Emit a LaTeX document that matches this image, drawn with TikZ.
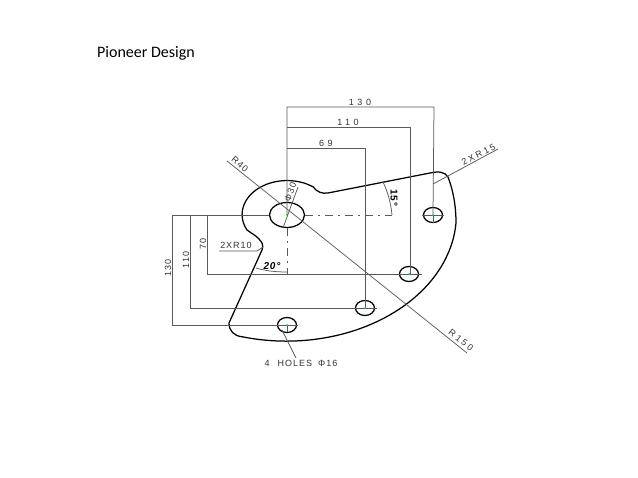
\documentclass[tikz,border=0pt]{standalone}
\usepackage{fontspec}
\setmainfont{Carlito}
\newfontfamily\dimwide[LetterSpace=39]{Liberation Sans}
\newfontfamily\dimmid[LetterSpace=25]{Liberation Sans}
\newfontfamily\dimtight[LetterSpace=11]{Liberation Sans}
\newfontfamily\dimbold[LetterSpace=8]{Liberation Sans}
\usetikzlibrary{shapes.geometric}
\definecolor{dimgray}{gray}{0.35}
\definecolor{dotgreen}{rgb}{0.1,0.85,0.2}
\begin{document}
\begin{tikzpicture}[x=1pt,y=-1pt,
outline/.style={line width=1.25pt,black},
dimline/.style={line width=0.75pt,dimgray},
axisline/.style={line width=0.75pt,dimgray,dash pattern=on 8pt off 5pt on 2pt off 5pt},
hole/.style={ellipse,draw=black,line width=1.25pt,inner sep=0pt,minimum width=19pt,minimum height=15pt},
widelabel/.style={font=\dimwide\fontsize{9}{10}\selectfont,text=black!80,inner sep=0pt},
midlabel/.style={font=\dimmid\fontsize{9}{10}\selectfont,text=black!80,inner sep=0pt},
tightlabel/.style={font=\dimtight\fontsize{9}{10}\selectfont,text=black!80,inner sep=0pt},
anglelabel/.style={font=\dimbold\bfseries\fontsize{10}{11}\selectfont,inner sep=0pt}]
\useasboundingbox (0,0) rectangle (638,478);

\node[anchor=west,inner sep=0pt,font=\fontsize{16}{18}\selectfont] (title) at (97,53) {Pioneer Design};

\node[hole,minimum width=35pt,minimum height=25pt] (bore) at (287,215) {};
\node[hole] (holea) at (433,215) {};
\node[hole] (holeb) at (409,274) {};
\node[hole] (holec) at (365,308) {};
\node[hole] (holed) at (287,325) {};

% outline
\draw[outline] (247,230) arc[start angle=153,end angle=305,x radius=45,y radius=34]
  .. controls (317,192) and (322,194) .. (328,193) -- (430,173)
  .. controls (439,171) and (445,172) .. (448,177)
  .. controls (453,190) and (456,205) .. (456,223)
  arc[start angle=4,end angle=105,x radius=170,y radius=127]
  .. controls (234,336) and (229,331) .. (229,323) -- (262,250)
  .. controls (264,245) and (262,242) .. (258,238)
  .. controls (255,235) and (251,233) .. (247,230) -- cycle;

% top dimensions
\coordinate (top130) at (434,107);
\coordinate (top110) at (410,127);
\coordinate (top69) at (365,148);
\draw[dimline] (bore.center) -- (bore.center |- top130) -- (top130) -- (holea.center);
\draw[dimline] (bore.center |- top110) -- (top110) -- (top110 |- holeb.center);
\draw[dimline] (bore.center |- top69) -- (top69) -- (holec.center);
\node[widelabel] (lab130) at (360,102) {130};
\node[widelabel] (lab110) at (348,122.5) {110};
\node[widelabel] (lab69) at (326,143) {69};

% left dimensions
\coordinate (left130) at (172,215);
\coordinate (left110) at (190,215);
\coordinate (left70) at (207,215);
\draw[dimline] (bore.west) -- (left130) -- (left130 |- holed.center) -- (holed.center);
\draw[dimline] (left110) -- (left110 |- holec.center) -- (holec.center);
\draw[dimline] (left70) -- (left70 |- holeb.center) -- (holeb.center);
\node[tightlabel,rotate=90] (lableft130) at (168,268) {130};
\node[tightlabel,rotate=90] (lableft110) at (186,260) {110};
\node[tightlabel,rotate=90] (lableft70) at (203,244) {70};

% centre lines
\coordinate (axisright) at (392,215);
\coordinate (axisdown) at (287,274);
\draw[axisline] (bore.east) -- (axisright);
\draw[axisline] (bore.south) -- (axisdown);
\coordinate (holeaw) at (422,215);
\coordinate (holeae) at (444,215);
\coordinate (holeas) at (433,223);
\coordinate (holebe) at (422,274);
\coordinate (holece) at (377,308);
\coordinate (holede) at (298,325);
\coordinate (holeds) at (287,332);
\draw[dimline] (holeaw) -- (holeae);
\draw[dimline] (holea.center) -- (holeas);
\draw[dimline] (holeb.center) -- (holebe);
\draw[dimline] (holec.center) -- (holece);
\draw[dimline] (holed.center) -- (holede);
\draw[dimline] (holed.center) -- (holeds);
\foreach \n in {bore,holea,holeb,holec,holed}
  \fill[dotgreen] (\n.center) circle (1pt);

% radius leaders
\coordinate (r40end) at (227,161);
\coordinate (r150end) at (467,353);
\draw[dimline] (r40end) -- (r150end);
\node[tightlabel,rotate=-40] (labr40) at (240,164) {R40};
\node[midlabel,rotate=-38] (labr150) at (461,340) {R150};

\coordinate (dia30top) at (298,187);
\coordinate (dia30low) at (283,228);
\draw[dimline] (dia30low) -- (dia30top);
\node[tightlabel,rotate=70] (labdia30) at (290.5,192) {Φ30};

\coordinate (r15start) at (433,184);
\coordinate (r15end) at (498,149);
\draw[dimline] (r15start) -- (r15end);
\node[midlabel,rotate=27] (labr15) at (478.5,154.5) {2XR15};

\coordinate (r10start) at (263,247);
\coordinate (r10knee) at (257,251);
\coordinate (r10end) at (219,251);
\draw[dimline] (r10start) -- (r10knee) -- (r10end);
\node[tightlabel] (labr10) at (236,245.5) {2XR10};

\coordinate (holeleadera) at (282,330);
\coordinate (holeleaderb) at (296,358);
\draw[dimline] (holeleadera) -- (holeleaderb);
\node[tightlabel] (labholes) at (301,363.5) {4\hspace{8pt}HOLES\hspace{6pt}Φ16};

% angle marks
\coordinate (ang15top) at (383,182);
\coordinate (ang20left) at (256,268);
\coordinate (ang20right) at (287,272);
\draw[dimline] (ang15top) .. controls (388,192) and (391,204) .. (axisright);
\draw[dimline] (ang20left) .. controls (266,271) and (276,272) .. (ang20right);
\node[anglelabel,rotate=-90] (lab15) at (394,198) {15°};
\node[anglelabel,font=\dimbold\bfseries\itshape\fontsize{10}{11}\selectfont] (lab20) at (272,266) {20°};
\end{tikzpicture}
\end{document}
